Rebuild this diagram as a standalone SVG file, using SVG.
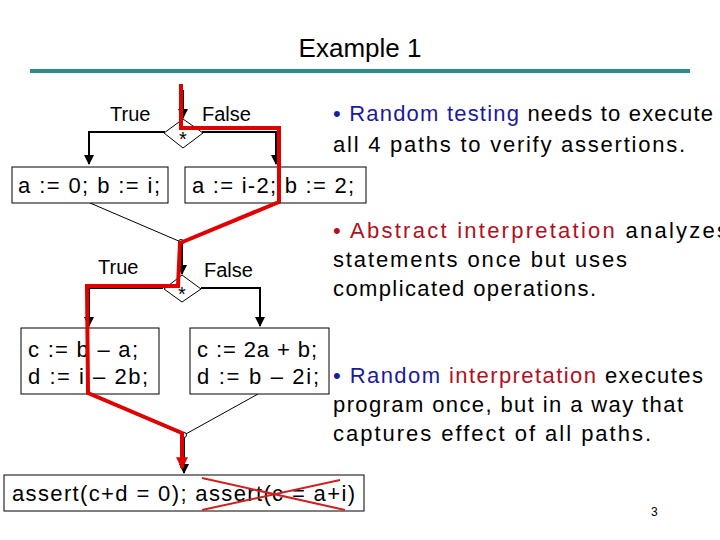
<svg xmlns="http://www.w3.org/2000/svg" width="720" height="540" viewBox="0 0 720 540">
<style>
text{font-family:"Liberation Sans","DejaVu Sans",sans-serif;fill:#000}
.t{font-size:22px}
.lb{font-size:20px}
.box{fill:#fff;stroke:#000;stroke-width:1}
.ln{fill:none;stroke:#000;stroke-width:2}
.thin{fill:none;stroke:#000;stroke-width:1}
.blue{fill:#1a1a9a}
.red{fill:#b01020}
</style>
<defs>
<marker id="a" viewBox="0 0 10 10" refX="9" refY="5" markerWidth="5" markerHeight="5" orient="auto"><path d="M0,0L10,5L0,10z" fill="#000"/></marker>
<marker id="r" viewBox="0 0 10 10" refX="9" refY="5" markerWidth="3" markerHeight="3" orient="auto"><path d="M0,0L10,5L0,10z" fill="#e00000"/></marker>
</defs>
<rect width="720" height="540" fill="#fff"/>
<text x="360" y="57" text-anchor="middle" style="font-size:26px">Example 1</text>
<line x1="30" y1="71" x2="690" y2="71" stroke="#2a8c8c" stroke-width="4"/>
<g id="connectors">
<path class="ln" d="M183,90V118" marker-end="url(#a)"/>
<path class="ln" d="M165,132H89V164" marker-end="url(#a)"/>
<path class="ln" d="M202,132H276V164" marker-end="url(#a)"/>
<path class="thin" d="M90,203L181,242M277,203L181,242"/>
<path class="ln" d="M182,244V274" marker-end="url(#a)"/>
<path class="ln" d="M163,288H89V326" marker-end="url(#a)"/>
<path class="ln" d="M201,288H260V326" marker-end="url(#a)"/>
<path class="thin" d="M88,394L184,435M258,394L184,435"/>
<path class="ln" d="M184,438V473" marker-end="url(#a)"/>
</g>
<g id="d1"><path d="M183,119L203,133L183,148L164,133z" fill="#fff" stroke="#000" stroke-width="1"/><text x="183" y="146" text-anchor="middle" style="font-size:20px">*</text></g>
<text class="lb" x="110" y="121">True</text>
<text class="lb" x="202" y="121">False</text>
<g id="b1"><rect class="box" x="12" y="167" width="156" height="36"/><text class="t" x="18" y="193" textLength="142" lengthAdjust="spacing">a := 0; b := i;</text></g>
<g id="b2"><rect class="box" x="185" y="167" width="181" height="36"/><text class="t" x="192" y="193" textLength="162" lengthAdjust="spacing">a := i-2; b := 2;</text></g>
<g id="j1"><circle cx="181" cy="242" r="2.5" fill="#fff" stroke="#000"/></g>
<g id="d2"><path d="M182,275L201,289L182,302L164,289z" fill="#fff" stroke="#000" stroke-width="1"/><text x="182" y="301" text-anchor="middle" style="font-size:20px">*</text></g>
<text class="lb" x="98" y="274">True</text>
<text class="lb" x="204" y="277">False</text>
<g id="b3"><rect class="box" x="21" y="328" width="138" height="66"/><text class="t" x="28" y="357" textLength="110" lengthAdjust="spacing">c := b – a;</text><text class="t" x="28" y="384" textLength="120" lengthAdjust="spacing">d := i – 2b;</text></g>
<g id="b4"><rect class="box" x="190" y="328" width="139" height="66"/><text class="t" x="197" y="357" textLength="120" lengthAdjust="spacing">c := 2a + b;</text><text class="t" x="197" y="384" textLength="122" lengthAdjust="spacing">d := b – 2i;</text></g>
<g id="j2"><circle cx="184" cy="435" r="2.5" fill="#fff" stroke="#000"/></g>
<g id="b5"><rect class="box" x="4" y="475" width="360" height="36"/><text class="t" x="12" y="501" textLength="343" lengthAdjust="spacing">assert(c+d = 0); assert(c = a+i)</text></g>
<g id="redpath" fill="none" stroke="#e00000" stroke-width="4">
<path d="M181,84V128H279V202L180,243L178,286H87L88,393L182,433V468" marker-end="url(#r)"/>
<path d="M202,478L345,510M202,510L340,480" stroke-width="2" stroke="#d02020"/>
</g>
<g id="notes">
<text class="t" x="333" y="121" textLength="380" lengthAdjust="spacing"><tspan class="blue">• Random testing</tspan> needs to execute</text>
<text class="t" x="333" y="152" textLength="352" lengthAdjust="spacing">all 4 paths to verify assertions.</text>
<text class="t" x="333" y="238" textLength="395" lengthAdjust="spacing"><tspan class="red">• Abstract interpretation</tspan>  analyzes</text>
<text class="t" x="333" y="267" textLength="294" lengthAdjust="spacing">statements once but  uses</text>
<text class="t" x="333" y="296" textLength="263" lengthAdjust="spacing">complicated operations.</text>
<text class="t" x="333" y="383" textLength="370" lengthAdjust="spacing"><tspan class="blue">• Random</tspan> <tspan class="red">interpretation</tspan> executes</text>
<text class="t" x="333" y="412" textLength="350" lengthAdjust="spacing">program once, but in a way that</text>
<text class="t" x="333" y="441" textLength="318" lengthAdjust="spacing">captures effect of all paths.</text>
<text x="651" y="516" style="font-size:12px">3</text>
</g>
</svg>
